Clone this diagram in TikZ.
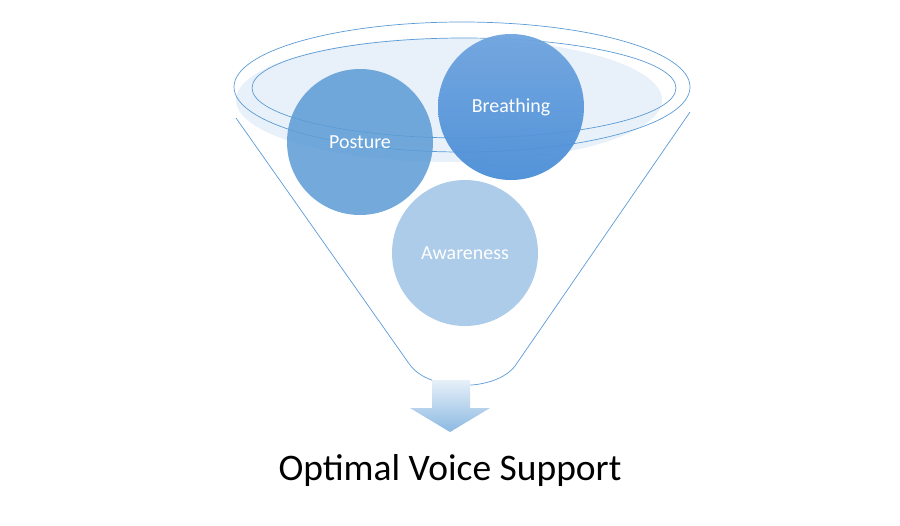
\documentclass[tikz,border=0pt]{standalone}
\usepackage{fontspec}
\setmainfont{Carlito}
\usetikzlibrary{positioning}
\definecolor{rim}{HTML}{5B9BD5}
\definecolor{deep}{HTML}{4A8DD6}
\begin{document}
\begin{tikzpicture}[x=0.03cm,y=-0.03cm,
	ball/.style={circle, minimum size=146*0.03cm, inner sep=0pt, text=white, font=\fontsize{17}{20}\selectfont},
	rimline/.style={draw=rim, line width=0.6pt}]
		\useasboundingbox (0,0) rectangle (900,525);
		% funnel
		\fill[rim!20, opacity=0.7] (449,100) ellipse [x radius=213, y radius=62];
		\draw[rimline] (462,87) ellipse [x radius=228, y radius=65];
		\draw[rimline] (464,88) ellipse [x radius=212, y radius=50];
		\draw[rimline] (236,118) -- (410,365) .. controls (430,392) and (495,392) .. (515,366) -- (690,112);
		% balls
		\node[ball, top color=deep!80, bottom color=deep, fill opacity=0.95, text opacity=1](breathing) at (511,107) {Breathing};
		\node[ball, fill=rim, fill opacity=0.85, text opacity=1](posture) at (360,142) {Posture};
		\node[ball, fill=rim!60, fill opacity=0.85, text opacity=1](awareness) at (465,253) {Awareness};
		% arrow
		\shade[top color=rim!15, bottom color=rim!70] (432,380) -- (470,380) -- (470,408) -- (490,408) -- (450,432) -- (410,408) -- (432,408) -- cycle;
		\node[font=\fontsize{32}{36}\selectfont](support) at (450,470) {Optimal Voice Support};
\end{tikzpicture}
\end{document}
